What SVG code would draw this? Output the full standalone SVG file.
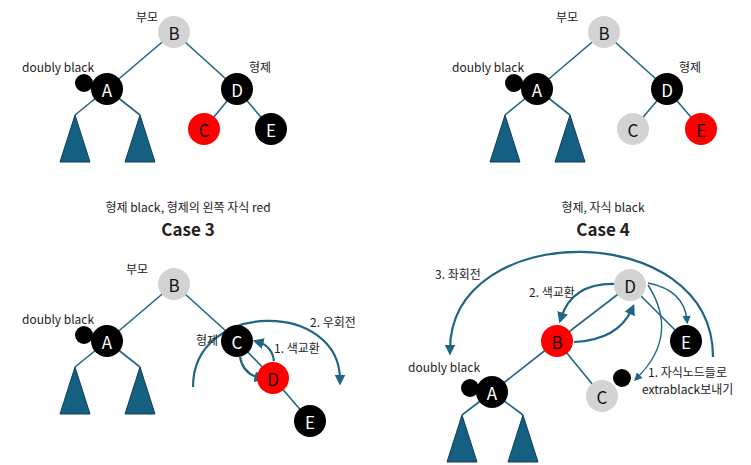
<svg xmlns="http://www.w3.org/2000/svg" width="751" height="465" viewBox="0 0 751 465">
<style>
text{font-family:"Noto Sans CJK KR","Noto Sans",sans-serif;font-size:12px;fill:#222}
.n text{font-size:17px;text-anchor:middle;dominant-baseline:central;fill:#111}
.n text.w{fill:#fff}
.e line{stroke:#1f6683;stroke-width:1.6}
.tri{fill:#156082;stroke:#0f3f55;stroke-width:1}
.k{fill:#000}.g{fill:#d3d3d3}.r{fill:#ff0000}
.arc{fill:none;stroke:#1f6683;stroke-width:2.2}
.t{fill:none;stroke:#1f6683;stroke-width:1.4}
.h{font-size:17px;font-weight:bold;text-anchor:middle}
.c{text-anchor:middle}
</style>
<defs>
<marker id="ah" viewBox="0 0 10 10" refX="5" refY="5" markerWidth="5" markerHeight="5" orient="auto"><path d="M0,0L10,5L0,10z" fill="#1f6683"/></marker>
<marker id="as" viewBox="0 0 10 10" refX="5" refY="5" markerWidth="6" markerHeight="6" orient="auto"><path d="M0,0L10,5L0,10z" fill="#1f6683"/></marker>
</defs>
<g class="e" id="connectors">
<line x1="174" y1="32" x2="107" y2="89"/><line x1="174" y1="32" x2="237" y2="89"/><line x1="237" y1="89" x2="204" y2="129"/><line x1="237" y1="89" x2="271" y2="129"/><line x1="107" y1="89" x2="75" y2="115"/><line x1="107" y1="89" x2="140" y2="115"/>
<line x1="604" y1="32" x2="537" y2="89"/><line x1="604" y1="32" x2="667" y2="89"/><line x1="667" y1="89" x2="633" y2="129"/><line x1="667" y1="89" x2="701" y2="129"/><line x1="537" y1="89" x2="505" y2="115"/><line x1="537" y1="89" x2="570" y2="115"/>
<line x1="174" y1="284" x2="107" y2="341"/><line x1="174" y1="284" x2="237" y2="341"/><line x1="237" y1="341" x2="273" y2="378"/><line x1="273" y1="378" x2="310" y2="421"/><line x1="107" y1="341" x2="75" y2="367"/><line x1="107" y1="341" x2="140" y2="367"/>
<line x1="630" y1="285" x2="557" y2="341"/><line x1="630" y1="285" x2="686" y2="341"/><line x1="557" y1="341" x2="602" y2="396"/><line x1="557" y1="341" x2="492" y2="392"/><line x1="492" y1="392" x2="462" y2="415"/><line x1="492" y1="392" x2="523" y2="415"/>
</g>
<g id="arrows">
<path class="arc" d="M193,387 C193,300 340,300 340,380" marker-end="url(#ah)"/>
<path class="arc" d="M240,357 Q243,374 260,378" marker-end="url(#ah)"/>
<path class="arc" d="M274,361 Q272,346 258,342" marker-end="url(#ah)"/>
<path class="arc" d="M713,357 C713,218 450,218 450,350" marker-end="url(#ah)"/>
<path class="arc" d="M615,284 Q572,283 561,318" marker-end="url(#ah)"/>
<path class="arc" d="M574,342 Q618,340 632,309" marker-end="url(#ah)"/>
<path class="t" d="M648,283 Q684,290 687,320" marker-end="url(#as)"/>
<path class="t" d="M648,285 Q680,335 637,378" marker-end="url(#as)"/>
</g>
<g id="triangles">
<polygon class="tri" points="75,115 60,162 90,162"/><polygon class="tri" points="140,115 125,162 155,162"/>
<polygon class="tri" points="505,115 490,162 520,162"/><polygon class="tri" points="570,115 555,162 585,162"/>
<polygon class="tri" points="75,367 60,414 90,414"/><polygon class="tri" points="140,367 125,414 155,414"/>
<polygon class="tri" points="462,415 447,462 477,462"/><polygon class="tri" points="523,415 508,462 538,462"/>
</g>
<g class="n">
<g id="tl-B"><circle class="g" cx="174" cy="32" r="16"/><text x="174" y="32">B</text></g>
<g id="tl-dot"><circle class="k" cx="84" cy="83" r="9"/></g>
<g id="tl-A"><circle class="k" cx="107" cy="89" r="16"/><text class="w" x="107" y="89">A</text></g>
<g id="tl-D"><circle class="k" cx="237" cy="89" r="16"/><text class="w" x="237" y="89">D</text></g>
<g id="tl-C"><circle class="r" cx="204" cy="129" r="16"/><text x="204" y="129">C</text></g>
<g id="tl-E"><circle class="k" cx="271" cy="129" r="16"/><text class="w" x="271" y="129">E</text></g>
<g id="tr-B"><circle class="g" cx="604" cy="32" r="16"/><text x="604" y="32">B</text></g>
<g id="tr-dot"><circle class="k" cx="514" cy="83" r="9"/></g>
<g id="tr-A"><circle class="k" cx="537" cy="89" r="16"/><text class="w" x="537" y="89">A</text></g>
<g id="tr-D"><circle class="k" cx="667" cy="89" r="16"/><text class="w" x="667" y="89">D</text></g>
<g id="tr-C"><circle class="g" cx="633" cy="129" r="16"/><text x="633" y="129">C</text></g>
<g id="tr-E"><circle class="r" cx="701" cy="129" r="16"/><text x="701" y="129">E</text></g>
<g id="bl-B"><circle class="g" cx="174" cy="284" r="16"/><text x="174" y="284">B</text></g>
<g id="bl-dot"><circle class="k" cx="84" cy="335" r="9"/></g>
<g id="bl-A"><circle class="k" cx="107" cy="341" r="16"/><text class="w" x="107" y="341">A</text></g>
<g id="bl-C"><circle class="k" cx="237" cy="341" r="16"/><text class="w" x="237" y="341">C</text></g>
<g id="bl-D"><circle class="r" cx="273" cy="378" r="16"/><text x="273" y="378">D</text></g>
<g id="bl-E"><circle class="k" cx="310" cy="421" r="16"/><text class="w" x="310" y="421">E</text></g>
<g id="br-D"><circle class="g" cx="630" cy="285" r="16"/><text x="630" y="285">D</text></g>
<g id="br-B"><circle class="r" cx="557" cy="341" r="16"/><text x="557" y="341">B</text></g>
<g id="br-E"><circle class="k" cx="686" cy="341" r="16"/><text class="w" x="686" y="341">E</text></g>
<g id="br-C"><circle class="g" cx="602" cy="396" r="16"/><text x="602" y="396">C</text></g>
<g id="br-dot2"><circle class="k" cx="622" cy="378" r="9"/></g>
<g id="br-dot"><circle class="k" cx="470" cy="388" r="9"/></g>
<g id="br-A"><circle class="k" cx="492" cy="392" r="16"/><text class="w" x="492" y="392">A</text></g>
</g>
<g id="labels">
<text x="136" y="22">부모</text><text x="22" y="72">doubly black</text><text x="249" y="72">형제</text>
<text x="556" y="22">부모</text><text x="452" y="72">doubly black</text><text x="679" y="72">형제</text>
<text class="c" x="188" y="212">형제 black, 형제의 왼쪽 자식 red</text><text class="h" x="188" y="236">Case 3</text>
<text class="c" x="603" y="212">형제, 자식 black</text><text class="h" x="603" y="236">Case 4</text>
<text x="126" y="274">부모</text><text x="22" y="324">doubly black</text><text x="196" y="345">형제</text>
<text x="310" y="327">2. 우회전</text><text x="274" y="353">1. 색교환</text>
<text x="435" y="279">3. 좌회전</text><text x="529" y="297">2. 색교환</text><text x="408" y="372">doubly black</text>
<text x="648" y="377">1. 자식노드들로</text><text x="642" y="394">extrablack보내기</text>
</g>
</svg>
